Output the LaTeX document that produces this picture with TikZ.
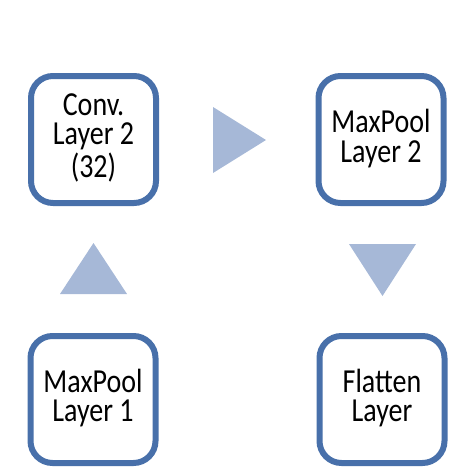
\documentclass[tikz,border=0pt]{standalone}
\usepackage{fontspec}
\setmainfont{Carlito}
\usepackage{graphicx}
\definecolor{boxblue}{RGB}{72,112,170}
\definecolor{triblue}{RGB}{166,184,215}
\newcommand{\boxtext}[1]{\scalebox{1}[1.2]{\fontsize{28}{22.5}\selectfont\begin{tabular}{@{}c@{}}#1\end{tabular}}}
\tikzset{
  layerbox/.style={draw=boxblue, line width=6pt, rounded corners=22pt, fill=white,
    minimum width=125pt, minimum height=127pt, inner sep=0pt, text=black},
  tri/.style={fill=triblue}
}
\begin{document}
\begin{tikzpicture}[x=1pt,y=-1pt]
\useasboundingbox (0,0) rectangle (474,474);
\node[layerbox] (conv) at (93.5,139.5) {\boxtext{Conv.\\Layer 2\\(32)}};
\node[layerbox] (mp2) at (381,139.5) {\boxtext{MaxPool\\Layer 2}};
\node[layerbox] (mp1) at (93,399.5) {\boxtext{MaxPool\\Layer 1}};
\node[layerbox] (flat) at (382,399.5) {\boxtext{Flatten\\Layer}};
\fill[tri] (213,107) -- (213,173) -- (266,140) -- cycle;
\fill[tri] (60,294) -- (127,294) -- (93.5,243) -- cycle;
\fill[tri] (349,244) -- (416,244) -- (382.5,296) -- cycle;
\end{tikzpicture}
\end{document}
